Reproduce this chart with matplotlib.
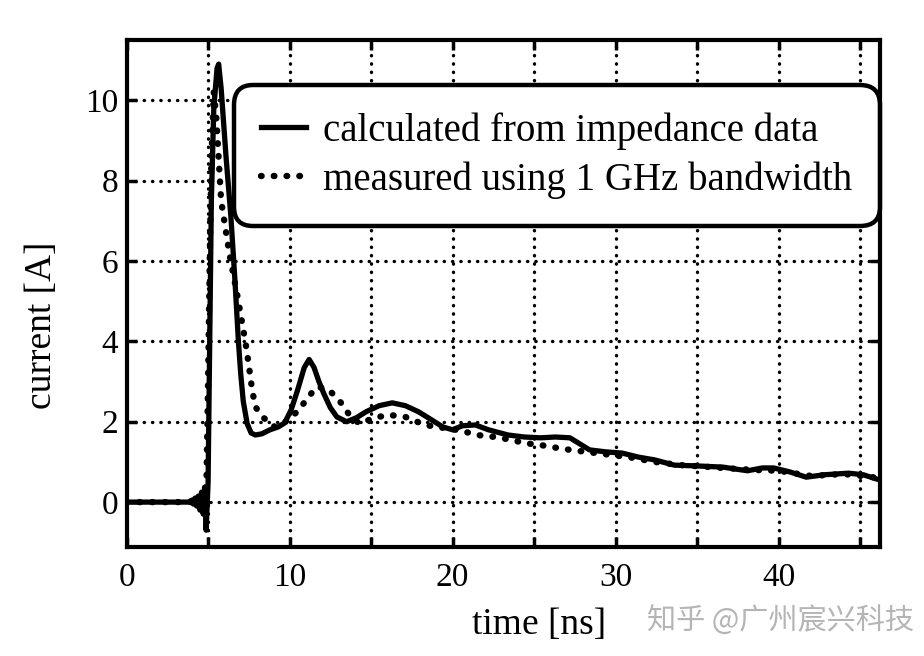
import matplotlib
matplotlib.use("Agg")
import matplotlib.pyplot as plt

plt.rcParams['font.family'] = ['Liberation Serif', 'DejaVu Serif']

# calculated from impedance data (solid)
t_calc = [0, 3.8, 4.0, 4.1, 4.2, 4.3, 4.4, 4.5, 4.6, 4.7, 4.8, 4.88, 5.0, 5.1,
          5.2, 5.35, 5.55, 5.65, 5.8, 6.1, 6.4, 6.65, 6.86, 7.0, 7.16, 7.4,
          7.64, 7.9, 8.3, 8.8, 9.3, 9.7, 10.1, 10.5, 10.9, 11.2, 11.5, 11.8,
          12.1, 12.5, 12.9, 13.5, 14.1, 14.7, 15.5, 16.3, 17.1, 17.9, 18.7,
          19.4, 20.0, 20.6, 21.4, 22.2, 23.4, 24.4, 25.4, 26.3, 27.2, 27.8,
          28.4, 29.4, 30.4, 31.4, 32.4, 33.6, 35.0, 36.6, 37.4, 38.1, 39.0,
          39.7, 40.7, 41.7, 42.8, 44.3, 45.2, 46.2]
i_calc = [0.0, 0.0, 0.05, -0.05, 0.1, -0.1, 0.15, -0.2, 0.25, -0.3, 0.3,
          -0.7, 0.5, 4.0, 7.5, 9.8, 10.8, 10.9, 10.3, 8.6, 7.1, 5.5, 4.0, 3.2,
          2.5, 1.95, 1.72, 1.67, 1.7, 1.8, 1.87, 1.97, 2.3, 2.8, 3.35, 3.55,
          3.35, 3.0, 2.7, 2.35, 2.12, 2.0, 2.1, 2.25, 2.4, 2.47, 2.4, 2.25,
          2.05, 1.87, 1.8, 1.9, 1.92, 1.8, 1.67, 1.62, 1.6, 1.62, 1.6, 1.45,
          1.3, 1.25, 1.22, 1.12, 1.05, 0.92, 0.9, 0.87, 0.82, 0.78, 0.85,
          0.85, 0.75, 0.62, 0.68, 0.72, 0.68, 0.55]

# measured using 1 GHz bandwidth (dotted)
t_meas = [0, 4.6, 4.9, 5.0, 5.1, 5.2, 5.35, 5.5, 5.8, 6.3, 6.86, 7.3, 7.5,
          7.7, 7.9, 8.4, 9.1, 9.6, 10.1, 10.6, 11.1, 11.7, 12.4, 13.1, 13.7,
          14.3, 15.2, 16.1, 17.1, 18.3, 19.4, 20.5, 21.5, 22.6, 23.6, 24.4,
          25.4, 26.4, 27.2, 28.8, 30.8, 32.4, 34.0, 36.6, 38.5, 40.0, 42.0,
          44.0, 46.2]
i_meas = [0, 0, 0.5, 3, 6, 8.5, 10.2, 9.6, 7.5, 6.2, 5.0, 3.96, 3.4, 2.8,
          2.37, 2.1, 1.87, 1.95, 2.12, 2.3, 2.6, 2.87, 2.8, 2.5, 2.15, 1.95,
          2.1, 2.17, 2.12, 1.92, 1.85, 1.78, 1.67, 1.62, 1.55, 1.47, 1.42,
          1.35, 1.3, 1.22, 1.12, 1.0, 0.92, 0.85, 0.8, 0.78, 0.65, 0.7, 0.6]

x_ticks = [0, 10, 20, 30, 40]
y_ticks = [0, 2, 4, 6, 8, 10]

fig = plt.figure(figsize=(9.24, 6.56), dpi=100)
ax = fig.add_axes([0.137, 0.166, 0.815, 0.773])

ax.plot(t_calc, i_calc, color='black', lw=3.8, solid_joinstyle='round',
        label='calculated from impedance data', zorder=3)
ax.plot(t_meas, i_meas, color='black', lw=4.6, linestyle=(0, (0.1, 1.9)),
        dash_capstyle='round', label='measured using 1 GHz bandwidth', zorder=3)

ax.set_xlim(0, 46.2)
ax.set_ylim(-1.12, 11.5)
ax.set_xticks(x_ticks)
ax.set_xticks(range(5, 46, 5), minor=True)
ax.set_yticks(y_ticks)

for v in range(5, 46, 5):
    ax.axvline(v, color='black', lw=2.4, linestyle=(0, (0.1, 2.4)),
               dash_capstyle='round', zorder=0)
for v in y_ticks:
    ax.axhline(v, color='black', lw=2.4, linestyle=(0, (0.1, 2.4)),
               dash_capstyle='round', zorder=0)

ax.tick_params(which='both', direction='in', top=True, right=True,
               length=7, width=2.5, labelsize=24)
ax.tick_params(axis='x', pad=11)
ax.tick_params(axis='y', pad=6)
for s in ax.spines.values():
    s.set_linewidth(3)

ax.set_xlabel('time [ns]', fontsize=27)
ax.set_ylabel('current [A]', fontsize=27)
ax.xaxis.set_label_coords(0.548, -0.12)
ax.yaxis.set_label_coords(-0.09, 0.438)

leg = ax.legend(loc='upper right', bbox_to_anchor=(1.0, 0.911),
                borderaxespad=0, fontsize=28, handlelength=1.15,
                handletextpad=0.45, borderpad=0.7, labelspacing=0.3,
                fancybox=True, framealpha=1, edgecolor='black')
leg.get_frame().set_linewidth(3.2)
leg.get_frame().set_boxstyle('round', pad=0.0, rounding_size=0.5)
leg.set_zorder(2)

fig.text(0.70, 0.052, '知乎 @广州宸兴科技', fontsize=21, color='#b5b5b5',
         family=['Noto Sans CJK SC', 'DejaVu Sans'], ha='left', va='center')

fig.savefig('out.png', dpi=100)
